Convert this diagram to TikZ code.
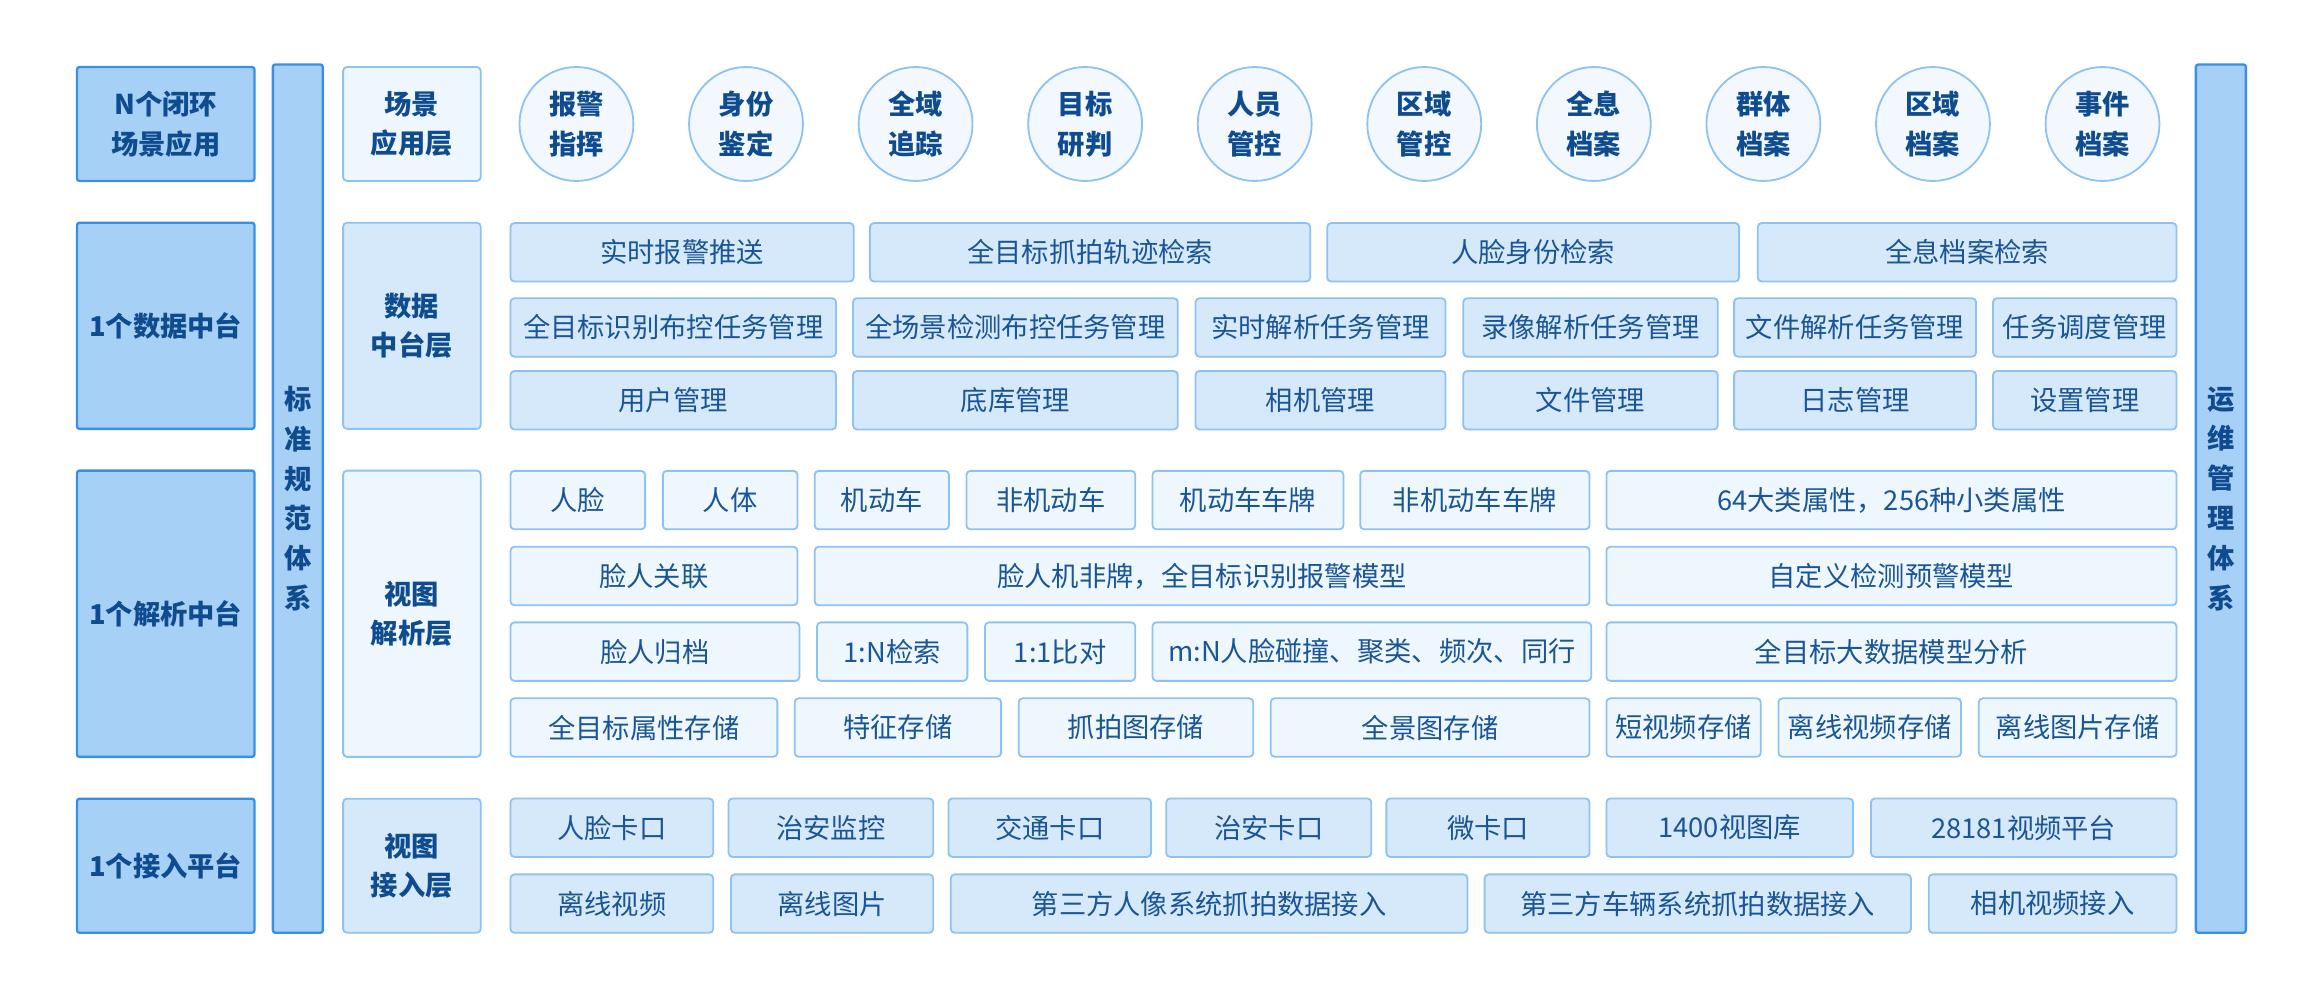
\documentclass[tikz,border=0pt]{standalone}
\usepackage{fontspec}
\setmainfont{Noto Sans CJK SC}
\usepackage{tikz}
\usetikzlibrary{positioning}

\definecolor{sidefill}{HTML}{A7D0F6}
\definecolor{sideline}{HTML}{3A8FE4}
\definecolor{cellline}{HTML}{8EC2F0}
\definecolor{datafill}{HTML}{D6E9FB}
\definecolor{viewfill}{HTML}{EFF7FE}
\definecolor{scenefill}{HTML}{F2F8FE}
\definecolor{celltext}{HTML}{1A5596}
\definecolor{labeltext}{HTML}{0F4C8F}

\tikzset{
    wide/.style={minimum width={(#1)*0.02cm}},
    tall/.style={minimum height={(#1)*0.02cm}},
    cell/.style={draw=cellline, line width=0.7pt, rounded corners=1.5pt, inner sep=0pt,
        align=center, text=celltext, font=\fontsize{10.5}{15.3}\selectfont},
    datacell/.style={cell, fill=datafill, tall=39.5},
    viewcell/.style={cell, fill=viewfill, tall=39.5},
    layer/.style={cell, text=labeltext, font=\fontsize{10.5}{15.3}\selectfont\bfseries, wide=93},
    sidebox/.style={draw=sideline, fill=sidefill, line width=0.9pt, rounded corners=1pt,
        inner sep=0pt, align=center, text=labeltext, font=\fontsize{10.5}{15.3}\selectfont\bfseries},
    scene/.style={circle, draw=cellline, fill=scenefill, line width=0.7pt, inner sep=0pt,
        minimum size={77*0.02cm}, align=center, text=labeltext, font=\fontsize{10.5}{15.3}\selectfont\bfseries}
}

\begin{document}
\begin{tikzpicture}[x=0.02cm, y=-0.02cm]

    \useasboundingbox (0,0) rectangle (1568,674.5);

    % left column
    \node[sidebox, wide=120, tall=77] (closed) at (112,83.8) {N个闭环\\场景应用};
    \node[sidebox, wide=120, tall=139.3] (datahub) at (112,220.2) {1个数据中台};
    \node[sidebox, wide=120, tall=193.5] (viewhub) at (112,414.8) {1个解析中台};
    \node[sidebox, wide=120, tall=90.6] (access) at (112,585.1) {1个接入平台};

    % vertical bars
    \node[sidebox, wide=33.8, tall=586.9] (standard) at (201.3,337) {标\\准\\规\\范\\体\\系};
    \node[sidebox, wide=33.8, tall=586.9] (ops) at (1501,337) {运\\维\\管\\理\\体\\系};

    % layer labels
    \node[layer, fill=viewfill, tall=77] (scenelayer) at (278.4,83.8) {场景\\应用层};
    \node[layer, fill=datafill, tall=139.3] (datalayer) at (278.4,220.2) {数据\\中台层};
    \node[layer, fill=viewfill, tall=193.5] (viewlayer) at (278.4,414.8) {视图\\解析层};
    \node[layer, fill=datafill, tall=90.6] (accesslayer) at (278.4,585.1) {视图\\接入层};

    % scene circles
    \foreach \t [count=\i] in {报警\\指挥, 身份\\鉴定, 全域\\追踪, 目标\\研判, 人员\\管控,
        区域\\管控, 全息\\档案, 群体\\档案, 区域\\档案, 事件\\档案} {
        \node[scene] (scene-\i) at ({389.6+(\i-1)*114.6},83.8) {\t};
    }

    % data layer
    \foreach \a/\b/\t [count=\i] in {345/577/实时报警推送, 588/885.5/全目标抓拍轨迹检索,
        897/1175.4/人脸身份检索, 1188/1471/全息档案检索} {
        \node[datacell, wide=\b-\a] (data-1-\i) at ({(\a+\b)/2},170.5) {\t};
    }
    \foreach \a/\b/\t [count=\i] in {345/565/全目标识别布控任务管理, 576.5/796/全场景检测布控任务管理,
        808/977/实时解析任务管理, 989/1161/录像解析任务管理, 1172/1335.5/文件解析任务管理,
        1347/1471/任务调度管理} {
        \node[datacell, wide=\b-\a] (data-2-\i) at ({(\a+\b)/2},221.3) {\t};
    }
    \foreach \a/\b/\t [count=\i] in {345/565/用户管理, 576.5/796/底库管理, 808/977/相机管理,
        989/1161/文件管理, 1172/1335.5/日志管理, 1347/1471/设置管理} {
        \node[datacell, wide=\b-\a] (data-3-\i) at ({(\a+\b)/2},270.5) {\t};
    }

    % analysis layer
    \foreach \a/\b/\t [count=\i] in {345/436/人脸, 448/539/人体, 550.6/641.4/机动车,
        653.2/767.3/非机动车, 778.9/908/机动车车牌, 919.3/1074.3/非机动车车牌,
        1085.7/1471/64大类属性，256种小类属性} {
        \node[viewcell, wide=\b-\a] (view-1-\i) at ({(\a+\b)/2},338) {\t};
    }
    \foreach \a/\b/\t [count=\i] in {345/539/脸人关联, 550.6/1074.3/脸人机非牌，全目标识别报警模型,
        1085.7/1471/自定义检测预警模型} {
        \node[viewcell, wide=\b-\a] (view-2-\i) at ({(\a+\b)/2},389.3) {\t};
    }
    \foreach \a/\b/\t [count=\i] in {345/540.3/脸人归档, 552.2/653.8/1:N检索, 665.7/767.3/1:1比对,
        778.9/1075.5/m:N人脸碰撞、聚类、频次、同行, 1085.7/1471/全目标大数据模型分析} {
        \node[viewcell, wide=\b-\a] (view-3-\i) at ({(\a+\b)/2},440.4) {\t};
    }
    \foreach \a/\b/\t [count=\i] in {345/525.4/全目标属性存储, 537.1/676.6/特征存储, 688.5/847/抓拍图存储,
        858.8/1074.3/全景图存储, 1085.7/1190/短视频存储, 1202/1325.3/离线视频存储,
        1337.4/1471/离线图片存储} {
        \node[viewcell, wide=\b-\a] (view-4-\i) at ({(\a+\b)/2},491.7) {\t};
    }

    % access layer
    \foreach \a/\b/\t [count=\i] in {345/482/人脸卡口, 492.4/630.7/治安监控, 641/778/交通卡口,
        788.2/926.8/治安卡口, 937/1074.3/微卡口, 1085.7/1252.4/1400视图库, 1264.5/1471/28181视频平台} {
        \node[datacell, wide=\b-\a] (acc-1-\i) at ({(\a+\b)/2},559.4) {\t};
    }
    \foreach \a/\b/\t [count=\i] in {345/482/离线视频, 494/630.7/离线图片, 642.6/991.8/第三方人像系统抓拍数据接入,
        1003.4/1291.5/第三方车辆系统抓拍数据接入, 1303.6/1471/相机视频接入} {
        \node[datacell, wide=\b-\a] (acc-2-\i) at ({(\a+\b)/2},610.7) {\t};
    }

\end{tikzpicture}
\end{document}
